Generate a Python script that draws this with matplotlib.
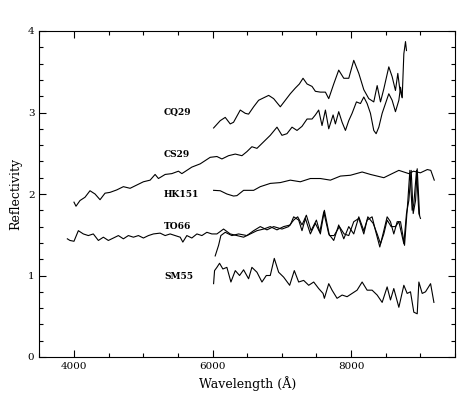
import matplotlib
matplotlib.use("Agg")
import matplotlib.pyplot as plt
from matplotlib.ticker import MultipleLocator

plt.rcParams['font.family'] = ['DejaVu Serif']

# CQ29
cq29_wl = [6015, 6111, 6183, 6255, 6303, 6400, 6472, 6520, 6593, 6665, 6737, 6810, 6882,
           6978, 7050, 7122, 7195, 7253, 7306, 7364, 7436, 7484, 7556, 7629, 7677, 7749,
           7821, 7894, 7966, 8038, 8111, 8183, 8255, 8327, 8376, 8424, 8472, 8544, 8592,
           8640, 8674, 8702, 8737, 8761, 8785, 8799]
cq29_r = [2.81, 2.90, 2.94, 2.86, 2.88, 3.03, 2.99, 2.98, 3.07, 3.15, 3.18, 3.21, 3.17,
          3.07, 3.15, 3.23, 3.30, 3.35, 3.42, 3.35, 3.32, 3.26, 3.25, 3.25, 3.17, 3.35,
          3.52, 3.42, 3.42, 3.64, 3.48, 3.28, 3.17, 3.13, 3.33, 3.13, 3.29, 3.56, 3.44,
          3.27, 3.48, 3.29, 3.18, 3.72, 3.87, 3.76]

# CS29
cs29_wl = [4000, 4029, 4087, 4159, 4231, 4304, 4376, 4448, 4520, 4617, 4713, 4810, 4906,
           5002, 5099, 5171, 5219, 5316, 5412, 5508, 5557, 5629, 5701, 5822, 5894, 5966,
           6063, 6135, 6231, 6328, 6424, 6496, 6568, 6641, 6737, 6833, 6930, 7002, 7074,
           7147, 7219, 7291, 7364, 7436, 7484, 7532, 7580, 7629, 7677, 7740, 7773, 7821,
           7870, 7918, 7966, 8014, 8077, 8135, 8183, 8231, 8279, 8327, 8361, 8400, 8448,
           8496, 8544, 8592, 8640, 8689, 8713, 8737]
cs29_r = [1.90, 1.85, 1.92, 1.96, 2.04, 2.00, 1.93, 2.01, 2.02, 2.05, 2.09, 2.07, 2.11,
          2.15, 2.17, 2.24, 2.19, 2.24, 2.25, 2.28, 2.25, 2.29, 2.33, 2.37, 2.41, 2.45,
          2.46, 2.43, 2.47, 2.49, 2.47, 2.52, 2.58, 2.56, 2.64, 2.72, 2.82, 2.72, 2.74,
          2.82, 2.78, 2.83, 2.92, 2.92, 2.97, 3.03, 2.84, 3.03, 2.80, 2.97, 2.86, 3.01,
          2.88, 2.78, 2.90, 2.99, 3.13, 3.11, 3.19, 3.11, 2.99, 2.78, 2.74, 2.82, 2.99,
          3.11, 3.23, 3.15, 3.01, 3.15, 3.31, 3.19]

# HK151
hk151_wl = [6015, 6111, 6207, 6303, 6352, 6448, 6593, 6689, 6833, 6978, 7122, 7267, 7412,
            7556, 7701, 7846, 7990, 8159, 8279, 8472, 8592, 8689, 8761, 8833, 8900, 9000,
            9100, 9150, 9200]
hk151_r = [2.045, 2.04, 2.00, 1.975, 1.98, 2.045, 2.045, 2.09, 2.13, 2.14, 2.17, 2.15, 2.19,
           2.19, 2.17, 2.22, 2.23, 2.27, 2.24, 2.20, 2.25, 2.29, 2.27, 2.25, 2.28, 2.26,
           2.30, 2.29, 2.17]

# TO66 (two spectra)
to66a_wl = [3904, 3942, 4000, 4063, 4135, 4207, 4279, 4352, 4424, 4496, 4569, 4641, 4713,
            4785, 4858, 4930, 5002, 5075, 5147, 5243, 5316, 5388, 5460, 5533, 5571, 5629,
            5701, 5774, 5846, 5918, 5990, 6063, 6159, 6255, 6352, 6448, 6545, 6641, 6737,
            6833, 6930, 7026, 7122, 7171, 7243, 7291, 7340, 7412, 7484, 7547, 7605, 7677,
            7749, 7821, 7894, 7966, 8038, 8111, 8183, 8231, 8303, 8352, 8414, 8472, 8520,
            8568, 8616, 8665, 8713, 8771, 8819, 8848, 8881, 8905, 8944, 8978, 9001]
to66a_r = [1.45, 1.43, 1.42, 1.55, 1.51, 1.49, 1.51, 1.43, 1.47, 1.43, 1.46, 1.49, 1.45,
           1.49, 1.47, 1.49, 1.46, 1.49, 1.51, 1.52, 1.49, 1.51, 1.49, 1.47, 1.41, 1.49,
           1.46, 1.51, 1.49, 1.53, 1.51, 1.51, 1.57, 1.51, 1.49, 1.47, 1.51, 1.55, 1.57,
           1.60, 1.56, 1.60, 1.62, 1.72, 1.68, 1.55, 1.70, 1.51, 1.64, 1.53, 1.78, 1.51,
           1.43, 1.62, 1.45, 1.60, 1.51, 1.72, 1.55, 1.68, 1.72, 1.55, 1.35, 1.55, 1.72,
           1.66, 1.51, 1.66, 1.66, 1.37, 1.92, 2.29, 1.80, 1.88, 2.29, 1.76, 1.70]
to66b_wl = [6038, 6087, 6120, 6183, 6279, 6376, 6496, 6593, 6689, 6785, 6882, 7002, 7098,
            7171, 7229, 7291, 7354, 7422, 7499, 7556, 7614, 7687, 7754, 7831, 7899, 7966,
            8038, 8111, 8183, 8241, 8318, 8376, 8424, 8472, 8520, 8578, 8640, 8689, 8761,
            8799, 8833, 8867, 8896, 8930, 8954, 8988]
to66b_r = [1.24, 1.37, 1.49, 1.53, 1.49, 1.51, 1.49, 1.55, 1.60, 1.56, 1.60, 1.57, 1.60,
           1.68, 1.72, 1.62, 1.74, 1.55, 1.68, 1.51, 1.80, 1.49, 1.49, 1.60, 1.51, 1.49,
           1.66, 1.70, 1.51, 1.72, 1.64, 1.51, 1.39, 1.51, 1.68, 1.60, 1.60, 1.66, 1.39,
           1.76, 1.92, 2.29, 1.76, 1.92, 2.31, 1.74]

# SM55
sm55_wl = [6015, 6029, 6063, 6101, 6149, 6207, 6265, 6328, 6390, 6448, 6520, 6568, 6641,
           6713, 6776, 6833, 6891, 6954, 7026, 7113, 7180, 7243, 7315, 7388, 7460, 7532,
           7595, 7614, 7677, 7725, 7797, 7870, 7942, 8014, 8086, 8159, 8231, 8303, 8376,
           8448, 8520, 8568, 8616, 8689, 8761, 8809, 8857, 8905, 8954, 8978, 9026, 9074,
           9147, 9195]
sm55_r = [0.90, 1.06, 1.10, 1.15, 1.08, 1.10, 0.92, 1.06, 1.00, 1.07, 0.96, 1.10, 1.04,
          0.92, 1.00, 1.00, 1.21, 1.04, 0.98, 0.88, 1.06, 0.92, 0.94, 0.88, 0.92, 0.84,
          0.78, 0.72, 0.90, 0.82, 0.72, 0.76, 0.74, 0.78, 0.82, 0.92, 0.82, 0.82, 0.76,
          0.67, 0.86, 0.70, 0.84, 0.61, 0.88, 0.78, 0.80, 0.55, 0.53, 0.92, 0.78, 0.80,
          0.90, 0.67]

labels = ['CQ29', 'CS29', 'HK151', 'TO66', 'SM55']
label_y = [3.0, 2.49, 1.99, 1.60, 0.99]

fig = plt.figure(figsize=(4.74, 4.0), dpi=100)
ax = fig.add_axes([0.083, 0.1075, 0.877, 0.815])

for wl, r in [(cq29_wl, cq29_r), (cs29_wl, cs29_r), (hk151_wl, hk151_r),
              (to66a_wl, to66a_r), (to66b_wl, to66b_r), (sm55_wl, sm55_r)]:
    ax.plot(wl, r, color='black', lw=0.8)

for name, yv in zip(labels, label_y):
    ax.text(5300, yv, name, fontsize=6.5, fontweight='bold', va='center', ha='left')

ax.set_xlim(3500, 9500)
ax.set_ylim(0, 4)
ax.xaxis.set_major_locator(MultipleLocator(2000))
ax.xaxis.set_minor_locator(MultipleLocator(500))
ax.yaxis.set_major_locator(MultipleLocator(1))
ax.yaxis.set_minor_locator(MultipleLocator(0.2))
ax.tick_params(which='both', direction='in', top=True, right=True, labelsize=7.5, width=0.8)
ax.tick_params(which='major', length=5)
ax.tick_params(which='minor', length=3)
ax.set_xlabel('Wavelength (Å)', fontsize=9)
ax.set_ylabel('Reflectivity', fontsize=9)
for s in ax.spines.values():
    s.set_linewidth(0.8)

fig.savefig('out.png', dpi=100)
